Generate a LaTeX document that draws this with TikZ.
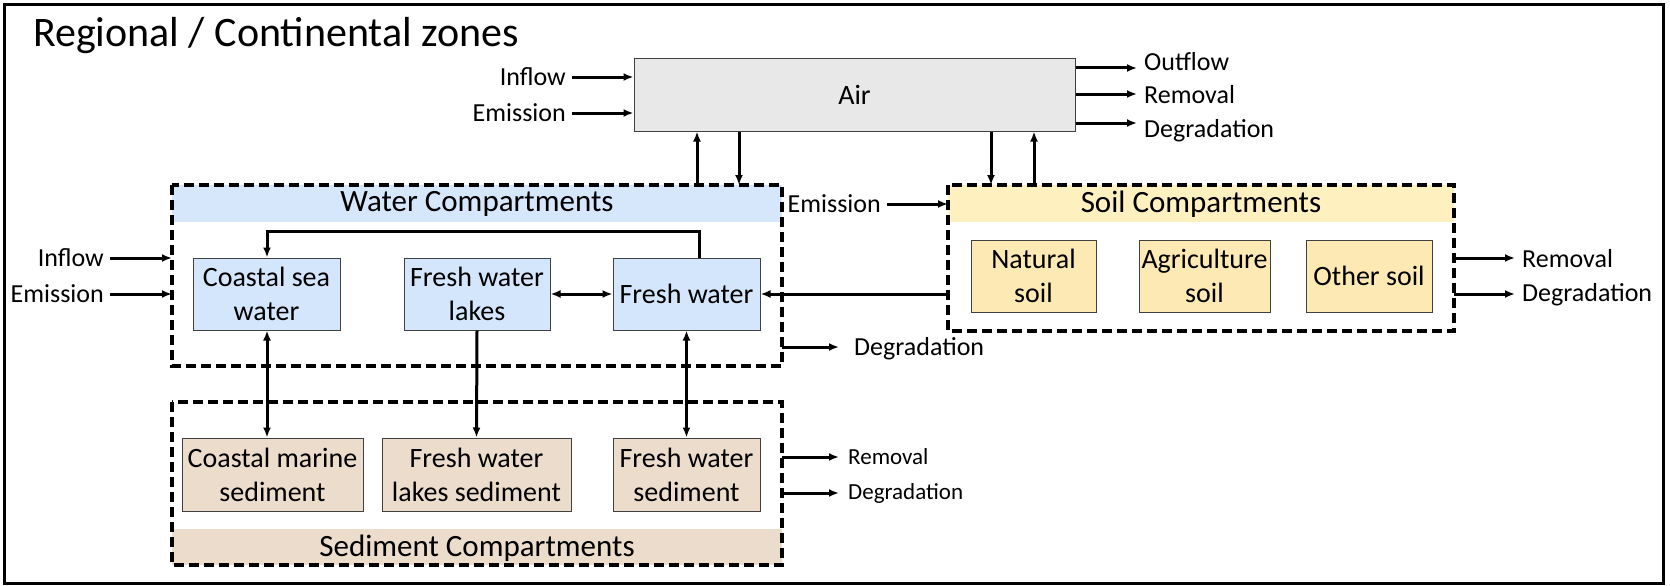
\documentclass[tikz,border=0pt]{standalone}
\usepackage{fontspec}
\setmainfont{Carlito}
\usetikzlibrary{arrows.meta}
\definecolor{airc}{HTML}{E8E8E8}
\definecolor{wband}{HTML}{D6E6FB}
\definecolor{wbox}{HTML}{D4E6FC}
\definecolor{sband}{HTML}{FFF0C0}
\definecolor{sbox}{HTML}{FDE9B3}
\definecolor{dbox}{HTML}{ECDCCB}
\tikzset{
  box/.style={draw=black!75, line width=1pt, align=center, inner sep=0pt,
    font=\fontsize{28}{34}\selectfont},
  grp/.style={draw=black, line width=3.4pt, dash pattern=on 10pt off 5pt},
  lbl/.style={font=\fontsize{26}{30}\selectfont, inner sep=0pt},
  slbl/.style={font=\fontsize{23}{26}\selectfont, inner sep=0pt},
  arr/.style={line width=3pt, -{Latex[length=10pt,width=8pt]}},
  darr/.style={line width=3pt, {Latex[length=10pt,width=8pt]}-{Latex[length=10pt,width=8pt]}},
  hdr/.style={font=\fontsize{31}{34}\selectfont, inner sep=0pt}
}
\begin{document}
\begin{tikzpicture}[x=1pt,y=-1pt]
\useasboundingbox (0,0) rectangle (1670,586);
\draw[line width=3pt] (4,5) rectangle (1663,583);
\node[anchor=base west, font=\fontsize{42}{46}\selectfont, inner sep=0pt] at (33,47) {Regional / Continental zones};

% Air
\node[box, fill=airc, minimum width=441pt, minimum height=72pt] (air) at (854.5,95) {Air};
\node[lbl, anchor=east] (ain) at (566,77) {Inflow};
\node[lbl, anchor=east] (aem) at (566,113) {Emission};
\draw[arr] (ain.east) ++(6,0) coordinate (c1) (c1) -- (c1 -| air.west);
\draw[arr] (aem.east) ++(6,0) coordinate (c2) (c2) -- (c2 -| air.west);
\node[lbl, anchor=west] (aout) at (1144,62) {Outflow};
\node[lbl, anchor=west] (arem) at (1144,95) {Removal};
\node[lbl, anchor=west] (adeg) at (1144,131) {Degradation};
\coordinate (o1) at (1137,68); \coordinate (o2) at (1137,94); \coordinate (o3) at (1137,123);
\draw[arr] (o1 -| air.east) -- (o1);
\draw[arr] (o2 -| air.east) -- (o2);
\draw[arr] (o3 -| air.east) -- (o3);

% Water group
\fill[wband] (172,185) rectangle (782,222);
\node[hdr] (wh) at (477,204) {Water Compartments};
\draw[grp] (172,185) rectangle (782,366);
\coordinate (wtop1) at (697,185); \coordinate (wtop2) at (739,185);
\draw[arr] (wtop1) -- (wtop1 |- air.south);
\draw[arr] (wtop2 |- air.south) -- (wtop2);
\node[box, fill=wbox, minimum width=147pt, minimum height=72pt] (cs) at (266.5,294) {Coastal sea\\water};
\node[box, fill=wbox, minimum width=146pt, minimum height=72pt] (fl) at (477,294) {Fresh water\\lakes};
\node[box, fill=wbox, minimum width=147pt, minimum height=72pt] (fw) at (686.5,294) {Fresh water};
\draw[line width=3pt, -{Latex[length=10pt,width=8pt]}] (fw.north -| 699,0) -- (699,231) -- (267,231) -- (cs.north -| 267,0);
\draw[darr] (fl) -- (fw);
\node[lbl, anchor=east] (win) at (104,258) {Inflow};
\node[lbl, anchor=east] (wem) at (104,294) {Emission};
\draw[arr] (110,258) -- (172,258);
\draw[arr] (110,294) -- (172,294);
\node[lbl, anchor=west] (wdeg) at (854,349) {Degradation};
\draw[arr] (782,347) -- (839,347);

% Sediment group
\fill[dbox] (172,529) rectangle (782,565);
\node[hdr] (sh) at (477,548) {Sediment Compartments};
\draw[grp] (172,402) rectangle (782,565);
\node[box, fill=dbox, minimum width=181pt, minimum height=73pt] (cms) at (272.5,474.5) {Coastal marine\\sediment};
\node[box, fill=dbox, minimum width=189pt, minimum height=73pt] (fls) at (476.5,474.5) {Fresh water\\lakes sediment};
\node[box, fill=dbox, minimum width=147pt, minimum height=73pt] (fws) at (686.5,474.5) {Fresh water\\sediment};
\draw[darr] (cs.south -| 267,0) -- (cms.north -| 267,0);
\draw[arr] (fl.south) -- (fls.north);
\draw[darr] (fw.south) -- (fws.north);
\node[slbl, anchor=west] (srem) at (848,457) {Removal};
\node[slbl, anchor=west] (sdeg) at (848,493) {Degradation};
\draw[arr] (782,457) -- (839,457);
\draw[arr] (782,493) -- (839,493);

% Soil group
\fill[sband] (948,185) rectangle (1454,222);
\node[hdr] (soh) at (1201,204) {Soil Compartments};
\draw[grp] (948,185) rectangle (1454,331);
\coordinate (st1) at (991,185); \coordinate (st2) at (1034,185);
\draw[arr] (st1 |- air.south) -- (st1);
\draw[arr] (st2) -- (st2 |- air.south);
\node[box, fill=sbox, minimum width=125pt, minimum height=72pt] (ns) at (1033.5,276) {Natural\\soil};
\node[box, fill=sbox, minimum width=131pt, minimum height=72pt] (as) at (1204.5,276) {Agriculture\\soil};
\node[box, fill=sbox, minimum width=126pt, minimum height=72pt] (os) at (1369,276) {Other soil};
\node[lbl, anchor=east] (sem) at (881,204) {Emission};
\draw[arr] (887,204) -- (948,204);
\draw[arr] (948,294) -- (fw.east);
\node[lbl, anchor=west] (sorem) at (1522,259) {Removal};
\node[lbl, anchor=west] (sodeg) at (1522,295) {Degradation};
\draw[arr] (1454,258) -- (1515,258);
\draw[arr] (1454,294) -- (1515,294);
\end{tikzpicture}
\end{document}
